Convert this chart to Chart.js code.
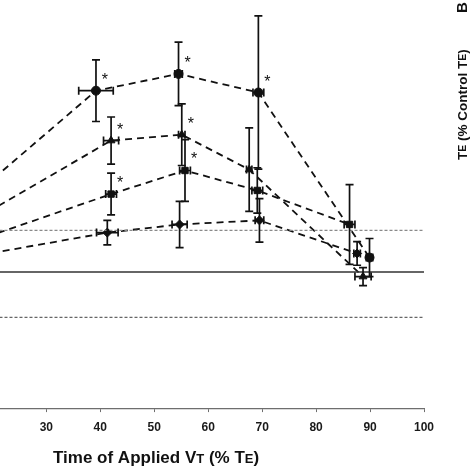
<!DOCTYPE html>
<html>
<head>
<meta charset="utf-8">
<script src="https://cdn.jsdelivr.net/npm/chart.js@4.4.1/dist/chart.umd.min.js"></script>
<style>
html, body { margin: 0; padding: 0; background: #fff; }
#wrap { width: 474px; height: 474px; }
</style>
</head>
<body>
<div id="wrap"><canvas id="teChart" width="474" height="474"></canvas></div>
<script>
const xTicks = [30, 40, 50, 60, 70, 80, 90, 100];

// time of applied VT (% TE), TE (% control TE), SEM both ways, * = significant
const timeA = [0, 39.2, 54.5, 69.3, 89.9];
const teA = [100, 140.0, 143.7, 139.6, 103.2];
const teErrA = [0, 6.8, 7.0, 16.9, 4.2];
const timeErrA = [0, 3.2, 0.7, 1.0, 0.6];
const sigA = [false, true, true, true, false];

const timeB = [0, 42.0, 55.1, 67.6, 88.7];
const teB = [100, 129.0, 130.3, 122.6, 99.0];
const teErrB = [0, 5.2, 6.8, 9.2, 2.0];
const timeErrB = [0, 1.4, 0.6, 0.5, 1.5];
const sigB = [false, true, true, false, false];

const timeC = [0, 42.0, 55.7, 69.1, 86.2];
const teC = [100, 117.2, 122.4, 118.0, 110.5];
const teErrC = [0, 4.6, 6.8, 5.0, 8.8];
const timeErrC = [0, 1.0, 1.0, 1.0, 1.0];
const sigC = [false, true, true, false, false];

const timeD = [0, 41.3, 54.7, 69.5, 87.6];
const teD = [100, 108.7, 110.5, 111.4, 104.1];
const teErrD = [0, 2.7, 5.1, 4.8, 2.6];
const timeErrD = [0, 2.0, 1.4, 0.8, 0.6];
const sigD = [false, false, false, false, false];

// control TE mean and spread
const controlMean = 100;
const controlUpper = 109.2;
const controlLower = 90.0;

function toPoints(xs, ys) {
    return xs.map((x, i) => ({ x: x, y: ys[i] }));
}

function seriesSet(label, xs, ys, yErr, xErr, sig, style) {
    return {
        label: label,
        data: toPoints(xs, ys),
        yErr: yErr,
        xErr: xErr,
        sig: sig,
        borderColor: "#111",
        backgroundColor: "#111",
        borderWidth: 1.8,
        borderDash: [7, 5],
        pointStyle: style,
        pointRadius: xs.map((x, i) => i === 0 ? 0 : 4.5),
        pointBorderWidth: 1,
        tension: 0
    };
}

function controlSet(label, value, color, dash, width) {
    return {
        label: label,
        data: [{ x: 0, y: value }, { x: 100, y: value }],
        borderColor: color,
        borderWidth: width,
        borderDash: dash,
        pointRadius: 0
    };
}

const errorBars = {
    id: "errorBars",
    afterDatasetsDraw(chart) {
        const ctx = chart.ctx;
        const xs = chart.scales.x, ys = chart.scales.y;
        const cap = 4;
        ctx.save();
        ctx.strokeStyle = "#111";
        ctx.lineWidth = 1.7;
        chart.data.datasets.forEach(ds => {
            if (!ds.yErr) return;
            ds.data.forEach((p, i) => {
                const px = xs.getPixelForValue(p.x);
                const py = ys.getPixelForValue(p.y);
                if (px < chart.chartArea.left) return;
                const ey = ds.yErr[i], ex = ds.xErr[i];
                ctx.beginPath();
                if (ey > 0) {
                    const top = ys.getPixelForValue(p.y + ey);
                    const bot = ys.getPixelForValue(p.y - ey);
                    ctx.moveTo(px, top); ctx.lineTo(px, bot);
                    ctx.moveTo(px - cap, top); ctx.lineTo(px + cap, top);
                    ctx.moveTo(px - cap, bot); ctx.lineTo(px + cap, bot);
                }
                if (ex > 0) {
                    const l = xs.getPixelForValue(p.x - ex);
                    const r = xs.getPixelForValue(p.x + ex);
                    ctx.moveTo(l, py); ctx.lineTo(r, py);
                    ctx.moveTo(l, py - cap); ctx.lineTo(l, py + cap);
                    ctx.moveTo(r, py - cap); ctx.lineTo(r, py + cap);
                }
                ctx.stroke();
            });
        });
        // significance marks
        ctx.fillStyle = "#111";
        ctx.font = "16px 'Liberation Sans', Arial, sans-serif";
        ctx.textAlign = "center";
        ctx.textBaseline = "alphabetic";
        chart.data.datasets.forEach(ds => {
            if (!ds.sig) return;
            ds.data.forEach((p, i) => {
                if (!ds.sig[i]) return;
                const px = xs.getPixelForValue(p.x);
                const py = ys.getPixelForValue(p.y);
                ctx.fillText("*", px + 9, py - 6);
            });
        });
        ctx.restore();
    }
};

function drawParts(ctx, parts, x, y) {
    parts.forEach(part => {
        ctx.font = "bold " + part.size + "px 'Liberation Sans', Arial, sans-serif";
        ctx.fillText(part.text, x, y);
        x += ctx.measureText(part.text).width;
    });
}

const axisTexts = {
    id: "axisTexts",
    afterDraw(chart) {
        const ctx = chart.ctx;
        ctx.save();
        ctx.fillStyle = "#111";
        ctx.textAlign = "left";
        ctx.textBaseline = "alphabetic";
        drawParts(ctx, [
            { text: "Time of Applied V", size: 17 },
            { text: "T", size: 13 },
            { text: " (% T", size: 17 },
            { text: "E", size: 13 },
            { text: ")", size: 17 }
        ], 53, 463);

        // cut-off neighbour panel on the right
        ctx.translate(463, 160);
        ctx.rotate(-Math.PI / 2);
        ctx.textBaseline = "middle";
        drawParts(ctx, [
            { text: "T", size: 13.5 },
            { text: "E", size: 10.5 },
            { text: " (% Control T", size: 13.5 },
            { text: "E", size: 10.5 },
            { text: ")", size: 13.5 }
        ], 0, 0);
        drawParts(ctx, [{ text: "B", size: 15 }], 147, 0);
        ctx.restore();
    }
};

const ctx = document.getElementById("teChart").getContext("2d");
new Chart(ctx, {
    type: "line",
    data: {
        datasets: [
            controlSet("Control", controlMean, "#333", [], 1.6),
            controlSet("Control + SD", controlUpper, "#8a8a8a", [3, 2], 1.2),
            controlSet("Control - SD", controlLower, "#666", [3, 2], 1.3),
            seriesSet("A", timeA, teA, teErrA, timeErrA, sigA, "circle"),
            seriesSet("B", timeB, teB, teErrB, timeErrB, sigB, "triangle"),
            seriesSet("C", timeC, teC, teErrC, timeErrC, sigC, "rect"),
            seriesSet("D", timeD, teD, teErrD, timeErrD, sigD, "rectRot")
        ]
    },
    options: {
        responsive: false,
        animation: false,
        layout: { autoPadding: false, padding: { left: 0, right: 50, top: 0, bottom: 30.5 } },
        plugins: {
            legend: { display: false },
            tooltip: { enabled: false }
        },
        scales: {
            x: {
                type: "linear",
                min: 21.41,
                max: 100,
                afterBuildTicks: scale => {
                    scale.ticks = xTicks.map(v => ({ value: v }));
                },
                border: { display: true, color: "#6e6e6e", width: 1.2 },
                grid: { drawOnChartArea: false, tickLength: 4, color: "#6e6e6e" },
                ticks: {
                    padding: 8.5,
                    color: "#1a1a1a",
                    font: { family: "'Liberation Sans', Arial, sans-serif", size: 12, weight: "bold" }
                }
            },
            y: {
                display: false,
                min: 70,
                max: 160
            }
        }
    },
    plugins: [errorBars, axisTexts]
});
</script>
</body>
</html>
